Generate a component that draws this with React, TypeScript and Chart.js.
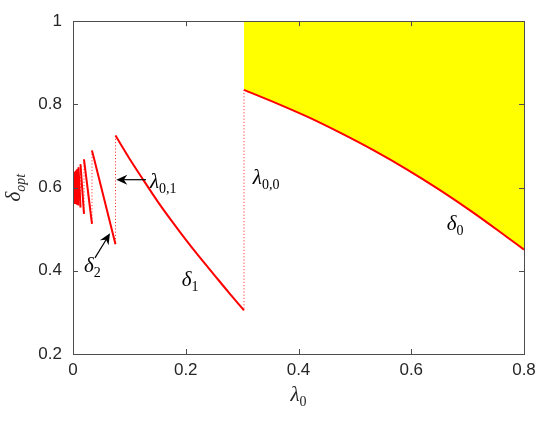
import React, { useEffect, useRef } from "react";
import { Chart, registerables } from "chart.js";

Chart.register(...registerables);

// ---- tick values ----
const xTicks = [0, 0.2, 0.4, 0.6, 0.8];
const yTicks = [0.2, 0.4, 0.6, 0.8, 1];

// ---- δ0 curve (upper boundary of yellow region) ----
const d0Lambda = [0.3033, 0.3553, 0.4145, 0.4736, 0.5327, 0.592, 0.651, 0.71, 0.769, 0.8];
const d0Delta = [0.835, 0.806, 0.771, 0.732, 0.69, 0.644, 0.594, 0.54, 0.482, 0.451];

// ---- δ1 curve ----
const d1Lambda = [0.0754, 0.1, 0.125, 0.15, 0.175, 0.2, 0.225, 0.25, 0.275, 0.3033];
const d1Delta = [0.725, 0.67, 0.618, 0.567, 0.52, 0.475, 0.432, 0.391, 0.35, 0.305];

// ---- switching points λ0,k (k = 0,1,2,...) ----
const switchLambda = [0.3033, 0.0754, 0.0337, 0.0195, 0.0133, 0.0098, 0.0076, 0.0061, 0.005, 0.0041, 0.0034, 0.0028, 0.0022, 0.0016, 0.001, 0.0005];
// δk at its left end (at λ0,k)
const segTop = [0.835, 0.725, 0.689, 0.668, 0.656, 0.649, 0.645, 0.642, 0.64, 0.638, 0.637, 0.636, 0.635, 0.634, 0.634, 0.633];
// δk at its right end (at λ0,k-1)
const segBottom = [NaN, 0.305, 0.464, 0.513, 0.537, 0.552, 0.557, 0.559, 0.56, 0.561, 0.561, 0.562, 0.562, 0.562, 0.562, 0.562];

const RED = "#ff0000";
const DOT = "rgba(255,40,40,0.9)";
const AXIS = "#4d4d4d";
const TEXT = "#262626";
const SANS = '"Liberation Sans", Arial, sans-serif';
const SERIF = '"Liberation Serif", "Times New Roman", serif';

function buildDatasets() {
  const ds: any[] = [];
  ds.push({
    label: "delta0",
    data: d0Lambda.map((x, i) => ({ x, y: d0Delta[i] })),
    showLine: true,
    borderColor: RED,
    borderWidth: 2,
    pointRadius: 0,
    cubicInterpolationMode: "monotone",
    fill: "end",
    backgroundColor: "#ffff00",
    order: 2,
  });
  ds.push({
    label: "delta1",
    data: d1Lambda.map((x, i) => ({ x, y: d1Delta[i] })),
    showLine: true,
    borderColor: RED,
    borderWidth: 2,
    pointRadius: 0,
    cubicInterpolationMode: "monotone",
    fill: false,
    order: 1,
  });
  for (let k = 2; k < switchLambda.length; k++) {
    ds.push({
      label: "delta" + k,
      data: [
        { x: switchLambda[k], y: segTop[k] },
        { x: switchLambda[k - 1], y: segBottom[k] },
      ],
      showLine: true,
      borderColor: RED,
      borderWidth: 2,
      pointRadius: 0,
      fill: false,
      order: 1,
    });
  }
  for (let k = 0; k < switchLambda.length - 1; k++) {
    ds.push({
      label: "switch" + k,
      data: [
        { x: switchLambda[k], y: segTop[k] },
        { x: switchLambda[k], y: segBottom[k + 1] },
      ],
      showLine: true,
      borderColor: DOT,
      borderWidth: 1,
      borderDash: [1.2, 2],
      pointRadius: 0,
      fill: false,
      order: 1,
    });
  }
  return ds;
}

function drawSub(ctx: CanvasRenderingContext2D, x: number, y: number, main: string, sub: string, mainFont: string, subFont: string, dy: number) {
  ctx.font = mainFont;
  ctx.fillText(main, x, y);
  const w = ctx.measureText(main).width;
  ctx.font = subFont;
  ctx.fillText(sub, x + w, y + dy);
}

function subWidth(ctx: CanvasRenderingContext2D, main: string, sub: string, mainFont: string, subFont: string) {
  ctx.font = mainFont;
  const a = ctx.measureText(main).width;
  ctx.font = subFont;
  return a + ctx.measureText(sub).width;
}

function arrow(ctx: CanvasRenderingContext2D, x0: number, y0: number, x1: number, y1: number) {
  const dx = x1 - x0;
  const dy = y1 - y0;
  const len = Math.hypot(dx, dy);
  const ux = dx / len;
  const uy = dy / len;
  const px = -uy;
  const py = ux;
  const hl = 11;
  const hw = 5;
  ctx.strokeStyle = "#000";
  ctx.fillStyle = "#000";
  ctx.lineWidth = 1.2;
  ctx.beginPath();
  ctx.moveTo(x0, y0);
  ctx.lineTo(x1 - ux * 6, y1 - uy * 6);
  ctx.stroke();
  ctx.beginPath();
  ctx.moveTo(x1, y1);
  ctx.lineTo(x1 - ux * hl + px * hw, y1 - uy * hl + py * hw);
  ctx.lineTo(x1 - ux * 7.5, y1 - uy * 7.5);
  ctx.lineTo(x1 - ux * hl - px * hw, y1 - uy * hl - py * hw);
  ctx.closePath();
  ctx.fill();
}

const overlayPlugin = {
  id: "overlay",
  afterDraw(chart: any) {
    const ctx: CanvasRenderingContext2D = chart.ctx;
    const xs = chart.scales.x;
    const ys = chart.scales.y;
    const a = chart.chartArea;
    ctx.save();
    // box
    ctx.strokeStyle = AXIS;
    ctx.lineWidth = 1;
    ctx.strokeRect(Math.round(a.left) + 0.5, Math.round(a.top) + 0.5, Math.round(a.right - a.left), Math.round(a.bottom - a.top));
    const tl = 5;
    ctx.beginPath();
    xTicks.forEach((v) => {
      const px = Math.round(xs.getPixelForValue(v)) + 0.5;
      ctx.moveTo(px, a.bottom);
      ctx.lineTo(px, a.bottom - tl);
      ctx.moveTo(px, a.top);
      ctx.lineTo(px, a.top + tl);
    });
    yTicks.forEach((v) => {
      const py = Math.round(ys.getPixelForValue(v)) + 0.5;
      ctx.moveTo(a.left, py);
      ctx.lineTo(a.left + tl, py);
      ctx.moveTo(a.right, py);
      ctx.lineTo(a.right - tl, py);
    });
    ctx.stroke();

    // annotations
    const MF = "italic 21px " + SERIF;
    const SF = "14px " + SERIF;
    const SFI = "italic 14px " + SERIF;
    ctx.fillStyle = "#000";
    ctx.textAlign = "left";
    ctx.textBaseline = "alphabetic";
    const X = (v: number) => xs.getPixelForValue(v);
    const Y = (v: number) => ys.getPixelForValue(v);

    drawSub(ctx, X(0.1366), Y(0.599), "λ", "0,1", MF, SF, 5);
    drawSub(ctx, X(0.319), Y(0.609), "λ", "0,0", MF, SF, 5);
    drawSub(ctx, X(0.663), Y(0.499), "δ", "0", MF, SF, 5);
    drawSub(ctx, X(0.193), Y(0.364), "δ", "1", MF, SF, 5);
    drawSub(ctx, X(0.0195), Y(0.397), "δ", "2", MF, SF, 5);

    arrow(ctx, X(0.1295), Y(0.619), X(0.0768), Y(0.619));
    arrow(ctx, X(0.039), Y(0.431), X(0.0656), Y(0.49));

    // axis titles
    ctx.fillStyle = TEXT;
    const w1 = subWidth(ctx, "λ", "0", MF, SF);
    drawSub(ctx, (a.left + a.right) / 2 - w1 / 2, 401, "λ", "0", MF, SF, 5);

    const w2 = subWidth(ctx, "δ", "opt", MF, SFI);
    ctx.translate(20, (a.top + a.bottom) / 2);
    ctx.rotate(-Math.PI / 2);
    drawSub(ctx, -w2 / 2, 0, "δ", "opt", MF, SFI, 5);
    ctx.restore();
  },
};

export default function App() {
  const ref = useRef<HTMLCanvasElement | null>(null);
  useEffect(() => {
    document.body.style.margin = "0";
    const canvas = ref.current;
    if (!canvas) return;
    const chart = new Chart(canvas, {
      type: "scatter",
      data: { datasets: buildDatasets() },
      options: {
        animation: false,
        responsive: false,
        devicePixelRatio: 1,
        layout: { padding: { top: 17, right: 26, left: 0, bottom: 0 } },
        plugins: { legend: { display: false }, tooltip: { enabled: false } },
        scales: {
          x: {
            type: "linear",
            min: 0,
            max: 0.8,
            afterBuildTicks: (s: any) => {
              s.ticks = xTicks.map((v) => ({ value: v }));
            },
            afterFit: (s: any) => {
              s.height = 70;
            },
            grid: { display: false, drawTicks: false },
            border: { display: false },
            ticks: {
              padding: 6,
              maxRotation: 0,
              autoSkip: false,
              color: TEXT,
              font: { family: SANS, size: 17 },
              callback: (v: any) => String(v),
            },
          },
          y: {
            type: "linear",
            min: 0.2,
            max: 1,
            afterBuildTicks: (s: any) => {
              s.ticks = yTicks.map((v) => ({ value: v }));
            },
            afterFit: (s: any) => {
              s.width = 73;
            },
            grid: { display: false, drawTicks: false },
            border: { display: false },
            ticks: {
              padding: 11,
              autoSkip: false,
              color: TEXT,
              font: { family: SANS, size: 17 },
              callback: (v: any) => String(v),
            },
          },
        },
      },
      plugins: [overlayPlugin],
    } as any);
    return () => chart.destroy();
  }, []);
  return (
    <div style={{ width: 550, height: 424, background: "#fff" }}>
      <canvas ref={ref} width={550} height={424} style={{ display: "block", width: 550, height: 424 }} />
    </div>
  );
}
